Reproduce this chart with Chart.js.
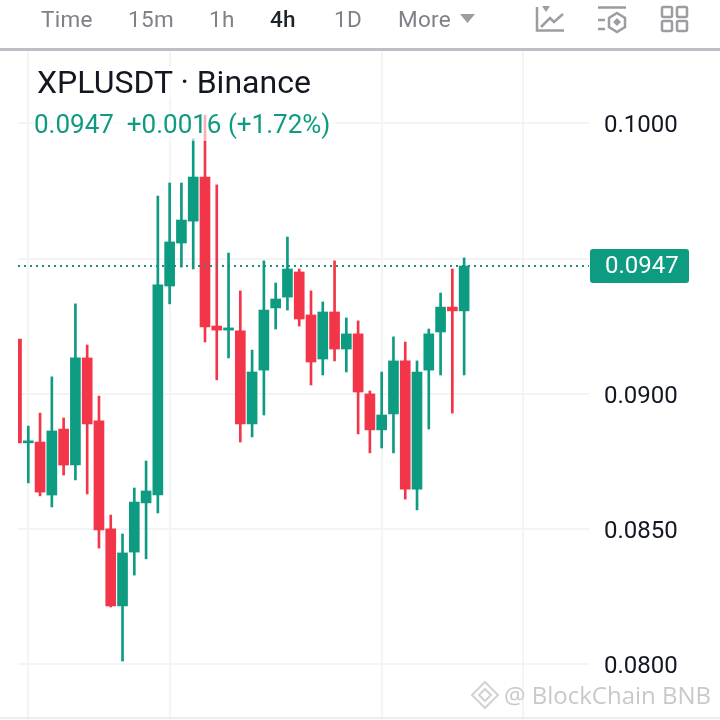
<!DOCTYPE html>
<html>
<head>
<meta charset="utf-8">
<script src="https://cdn.jsdelivr.net/npm/chart.js@4"></script>
<style>
  html, body { margin: 0; padding: 0; background: #fff; }
  #wrap { position: relative; width: 720px; height: 720px; overflow: hidden; font-family: Roboto, sans-serif; }
  #priceChart { position: absolute; left: 0; top: 0; }
  .txt { position: absolute; white-space: nowrap; line-height: 1; }
  .tab { top: 8px; font-size: 22.5px; color: #7e8187; letter-spacing: 0.3px; }
  #topLine { position: absolute; left: 0; top: 48px; width: 720px; height: 3px; background: #bcc0c4; }
  #symbol { left: 37px; top: 66px; font-size: 32px; color: #131722; background: rgba(255,255,255,0.6); }
  #legend { left: 34px; top: 111px; font-size: 26px; color: #0f9a82; background: rgba(255,255,255,0.6); padding: 0 6px 4px 0; }
  #mark { left: 504px; top: 683px; font-size: 24px; color: #c9c9c9; font-family: "Open Sans", sans-serif; }
  svg { position: absolute; overflow: visible; }
</style>
</head>
<body>
<div id="wrap">
  <canvas id="priceChart" width="720" height="720"></canvas>
  <div id="topLine"></div>
  <span class="txt tab" style="left:41px">Time</span>
  <span class="txt tab" style="left:128px">15m</span>
  <span class="txt tab" style="left:209px">1h</span>
  <span class="txt tab" style="left:270px;color:#1e2329;font-weight:500">4h</span>
  <span class="txt tab" style="left:334px">1D</span>
  <span class="txt tab" style="left:398px">More</span>
  <svg style="left:0;top:0" width="720" height="48">
    <polygon points="460,14 475,14 467.5,23" fill="#9b9da0"/>
    <g fill="none" stroke="#9b9da0" stroke-width="2.5">
      <path d="M537 7V30.5H564"/>
      <path d="M541 27L550 18L554 22L563 14"/>
      <path d="M598 7.500H626M598 20H605M598 29H605"/>
      <polygon points="617,13 625,18 625,27 617,32 609,27 609,18"/>
      <rect x="662" y="7" width="10" height="10" rx="1.5"/>
      <rect x="677" y="7" width="10" height="10" rx="1.5"/>
      <rect x="662" y="21" width="10" height="10" rx="1.5"/>
      <rect x="677" y="21" width="10" height="10" rx="1.5"/>
    </g>
    <polygon points="542,6 550,6 546,12" fill="#9b9da0"/>
    <polygon points="617,18 621,22 617,26 613,22" fill="#9b9da0"/>
  </svg>
  <span class="txt" id="symbol">XPLUSDT · Binance</span>
  <span class="txt" id="legend">0.0947&nbsp; +0.0016 (+1.72%)</span>
  <svg style="left:0;top:0" width="720" height="720">
    <g fill="none" stroke="#d2d2d2" stroke-width="2">
      <polygon points="485,682 498,695 485,708 472,695"/>
      <polygon points="485,689 491,695 485,701 479,695"/>
    </g>
  </svg>
  <span class="txt" id="mark">@ BlockChain BNB</span>
</div>
<script>
const opens = [0.09203, 0.08819, 0.08822, 0.08626, 0.08870, 0.08737, 0.09133, 0.08900, 0.08501, 0.08216,
  0.08415, 0.08597, 0.08626, 0.09399, 0.09558, 0.09639, 0.09802, 0.09251, 0.09236, 0.09233,
  0.08889, 0.09088, 0.09318, 0.09358, 0.09451, 0.09292, 0.09129, 0.09303, 0.09166, 0.09222,
  0.09000, 0.08867, 0.08926, 0.09122, 0.08648, 0.09088, 0.09229, 0.09321, 0.09307];
const highs = [0.09203, 0.08881, 0.08929, 0.09063, 0.08911, 0.09333, 0.09181, 0.08992, 0.08552, 0.08482,
  0.08652, 0.08752, 0.09732, 0.09780, 0.09780, 0.09943, 0.10031, 0.09773, 0.09521, 0.09381,
  0.09162, 0.09492, 0.09410, 0.09580, 0.09462, 0.09381, 0.09340, 0.09492, 0.09281, 0.09270,
  0.09011, 0.09081, 0.09211, 0.09192, 0.09122, 0.09240, 0.09373, 0.09462, 0.09503];
const lows = [0.08819, 0.08671, 0.08623, 0.08582, 0.08700, 0.08682, 0.08630, 0.08430, 0.08212, 0.08012,
  0.08330, 0.08390, 0.08560, 0.09333, 0.09469, 0.09462, 0.09192, 0.09052, 0.09133, 0.08822,
  0.08841, 0.08922, 0.09240, 0.09310, 0.09251, 0.09033, 0.09070, 0.09122, 0.09081, 0.08852,
  0.08782, 0.08800, 0.08782, 0.08611, 0.08571, 0.08870, 0.09070, 0.08929, 0.09070];
const closes = [0.08819, 0.08824, 0.08637, 0.08863, 0.08737, 0.09133, 0.08889, 0.08497, 0.08216, 0.08412,
  0.08600, 0.08641, 0.09403, 0.09562, 0.09643, 0.09802, 0.09248, 0.09236, 0.09244, 0.08889,
  0.09081, 0.09310, 0.09351, 0.09462, 0.09277, 0.09118, 0.09303, 0.09166, 0.09222, 0.09007,
  0.08867, 0.08922, 0.09122, 0.08648, 0.09081, 0.09222, 0.09321, 0.09307, 0.09473];

const priceTicks = [0.1, 0.095, 0.09, 0.085, 0.08];
const priceTickLabels = ["0.1000", "", "0.0900", "0.0850", "0.0800"];
const timeGridSlots = [1, 13, 31, 43];
const lastPrice = 0.09473;
const lastPriceLabel = "0.0947";

const GREEN = "#0d9b82";
const RED = "#f23548";
const GRID = "#f3f4f5";

const xMin = 0.127, xMax = 48.6;
const barColors = opens.map((o, i) => closes[i] < o ? RED : GREEN);

// price tag on the axis, plus the faint line along the bottom edge
const priceTag = {
  id: "priceTag",
  afterDraw(chart) {
    const ctx = chart.ctx;
    const y = chart.scales.y.getPixelForValue(lastPrice);
    ctx.save();
    ctx.fillStyle = GREEN;
    ctx.beginPath();
    ctx.roundRect(590, y - 17, 99, 34, 3);
    ctx.fill();
    ctx.fillStyle = "#fff";
    ctx.font = "24px Roboto";
    ctx.textBaseline = "middle";
    ctx.textAlign = "left";
    ctx.fillText(lastPriceLabel, 605, y + 1);
    ctx.fillStyle = "#eceded";
    ctx.fillRect(0, 717, 720, 2);
    ctx.restore();
  }
};

new Chart(document.getElementById("priceChart"), {
  type: "bar",
  data: {
    datasets: [
      {
        type: "line",
        data: [{ x: xMin, y: lastPrice }, { x: xMax, y: lastPrice }],
        borderColor: "#1b8f7c",
        borderWidth: 2,
        borderDash: [2, 4],
        pointRadius: 0,
        order: 0
      },
      {
        data: opens.map((o, i) => ({ x: i, y: [o, closes[i]] })),
        backgroundColor: barColors,
        barThickness: 10,
        minBarLength: 2,
        grouped: false,
        order: 1
      },
      {
        data: lows.map((l, i) => ({ x: i, y: [l, highs[i]] })),
        backgroundColor: barColors,
        barThickness: 2,
        grouped: false,
        order: 2
      }
    ]
  },
  options: {
    responsive: false,
    animation: false,
    devicePixelRatio: 1,
    layout: { padding: { left: 18, top: 50, right: 0, bottom: 0 } },
    plugins: { legend: { display: false }, tooltip: { enabled: false } },
    scales: {
      x: {
        type: "linear",
        offset: false,
        min: xMin,
        max: xMax,
        afterBuildTicks: s => { s.ticks = timeGridSlots.map(v => ({ value: v })); },
        afterFit: s => { s.height = 0; },
        ticks: { display: false },
        border: { display: false },
        grid: { color: GRID, lineWidth: 2, drawTicks: false, offset: false }
      },
      y: {
        position: "right",
        min: 0.077941,
        max: 0.102718,
        afterBuildTicks: s => { s.ticks = priceTicks.map(v => ({ value: v })); },
        afterFit: s => { s.width = 131; s.paddingTop = 0; s.paddingBottom = 0; },
        ticks: {
          callback: (v, i) => priceTickLabels[i],
          color: "#131722",
          font: { family: "Roboto", size: 24 },
          padding: 15,
          labelOffset: 3,
          align: "center",
          crossAlign: "near"
        },
        border: { display: false },
        grid: { color: GRID, lineWidth: 2, drawTicks: false }
      }
    }
  },
  plugins: [priceTag]
});
</script>
</body>
</html>
